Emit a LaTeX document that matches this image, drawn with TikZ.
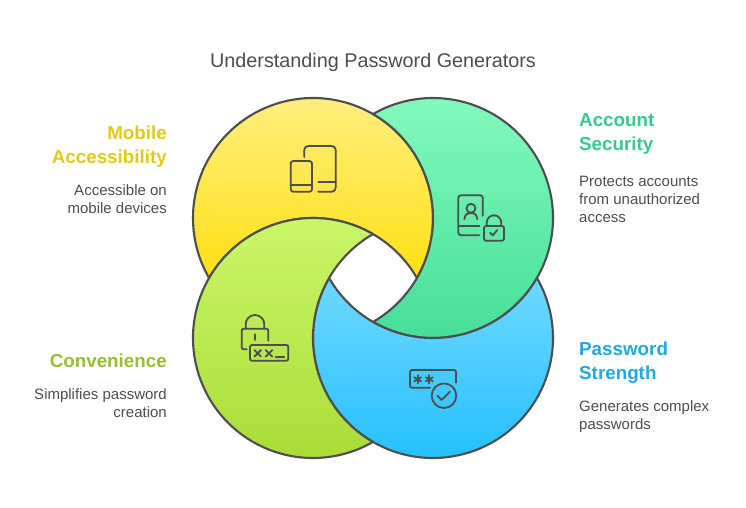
\documentclass[tikz,border=0pt]{standalone}
\usepackage{fontspec}
\setmainfont{Liberation Sans}
\definecolor{inkgray}{HTML}{4D4D4D}
\definecolor{mobileTop}{HTML}{FFF08A}
\definecolor{mobileBot}{HTML}{FFE014}
\definecolor{accountTop}{HTML}{84FABE}
\definecolor{accountBot}{HTML}{42DC96}
\definecolor{strengthTop}{HTML}{70D8FF}
\definecolor{strengthBot}{HTML}{1EBEFF}
\definecolor{convenTop}{HTML}{CEF86E}
\definecolor{convenBot}{HTML}{A8DC36}
\definecolor{mobileHead}{HTML}{E3C918}
\definecolor{accountHead}{HTML}{35C98A}
\definecolor{convenHead}{HTML}{98BF30}
\definecolor{strengthHead}{HTML}{20A8E0}
\tikzset{
  petal/.style={draw=inkgray, line width=2.1pt, line join=round},
  icon/.style={draw=inkgray, line width=1.8pt, line cap=round, line join=round},
  headtext/.style={font=\fontsize{18.8}{24}\selectfont\bfseries, inner sep=0pt},
  bodytext/.style={font=\fontsize{15}{18}\selectfont, text=inkgray, inner sep=0pt},
}
\begin{document}
\begin{tikzpicture}[x=1pt, y=1pt]
  \useasboundingbox (-373,-229) rectangle (373,278);
  % petals
  \draw[petal, top color=mobileTop, bottom color=mobileBot] (-60,60) ++(-30:120pt) arc (-30:210:120pt) arc (150:30:120pt) -- cycle;
  \draw[petal, top color=accountTop, bottom color=accountBot] (60,60) ++(-120:120pt) arc (-120:120:120pt) arc (60:-60:120pt) -- cycle;
  \draw[petal, top color=strengthTop, bottom color=strengthBot] (60,-60) ++(-210:120pt) arc (-210:30:120pt) arc (-30:-150:120pt) -- cycle;
  \draw[petal, top color=convenTop, bottom color=convenBot] (-60,-60) ++(-300:120pt) arc (-300:-60:120pt) arc (-120:-240:120pt) -- cycle;
  % icons, in page pixels
  \begin{scope}[shift={(-373,278)}, yscale=-1, every path/.append style={icon}]
    % mobile
    \draw[rounded corners=2.5pt] (290.7,161) rectangle (312,191.7);
    \draw (290.7,185) -- (312,185);
    \draw[rounded corners=4pt] (304.3,157) -- (304.3,146) -- (335.7,146) -- (335.7,191.7) -- (318.3,191.7);
    \draw (318.3,181.7) -- (335.7,181.7);
    % account
    \draw[rounded corners=2.5pt] (482.7,216) -- (482.7,195.3) -- (458.3,195.3) -- (458.3,235.3) -- (479.3,235.3);
    \draw (458.3,226) -- (479.3,226);
    \draw (471,208.3) circle (4.5pt);
    \draw (464.3,219.3) .. controls (464.8,214) and (468,212.8) .. (471,212.8) .. controls (474,212.8) and (476.8,214) .. (477.3,219.3);
    \draw[rounded corners=2pt] (484,226) rectangle (504,240.7);
    \draw (486.7,226) -- (486.7,222.6) arc (180:360:7.3pt) -- (501.3,226);
    \draw (490,232.7) -- (492.7,235.3) -- (497.3,230);
    % convenience
    \draw (245.7,328.7) -- (245.7,324.3) arc (180:360:9.3pt) -- (264.3,328.7);
    \draw[rounded corners=2pt] (268.3,340.7) -- (268.3,328.7) -- (241.7,328.7) -- (241.7,349.3) -- (246.7,349.3);
    \draw (255,334.3) -- (255,340);
    \draw[rounded corners=2pt] (250,345) rectangle (288.3,360.7);
    \foreach \keyx in {257.7,269} {
      \draw (\keyx-3.3,350) -- (\keyx+3.3,356.6);
      \draw (\keyx-3.3,356.6) -- (\keyx+3.3,350);
    }
    \draw (275.7,357.3) -- (284.3,357.3);
    % strength
    \draw[rounded corners=2pt] (456,382.7) -- (456,370) -- (410,370) -- (410,387.7) -- (430,387.7);
    \foreach \starx in {417.7,429.3} {
      \foreach \starang in {90,30,-30} {
        \draw (\starx,379.3) ++(\starang:4pt) -- ++(\starang+180:8pt);
      }
    }
    \draw (444,395.7) circle (12.3pt);
    \draw (437.3,395.7) -- (441.7,400) -- (450,391.7);
  \end{scope}
  % texts
  \node[font=\fontsize{19.8}{24}\selectfont, text=inkgray, inner sep=0pt] (title) at (0,216) {Understanding Password Generators};
  \node[headtext, text=mobileHead, align=right, anchor=north east] (mobilehead) at (-206,152.5) {Mobile\\Accessibility};
  \node[bodytext, align=right, anchor=north east] (mobilebody) at (-206,94) {Accessible on\\mobile devices};
  \node[headtext, text=accountHead, align=left, anchor=north west] (accounthead) at (206,164.5) {Account\\Security};
  \node[bodytext, align=left, anchor=north west] (accountbody) at (206,102) {Protects accounts\\from unauthorized\\access};
  \node[headtext, text=convenHead, anchor=north east] (convenhead) at (-206,-75.5) {Convenience};
  \node[bodytext, align=right, anchor=north east] (convenbody) at (-206,-110) {Simplifies password\\creation};
  \node[headtext, text=strengthHead, align=left, anchor=north west] (strengthhead) at (206,-63.5) {Password\\Strength};
  \node[bodytext, align=left, anchor=north west] (strengthbody) at (206,-122) {Generates complex\\passwords};
\end{tikzpicture}
\end{document}
